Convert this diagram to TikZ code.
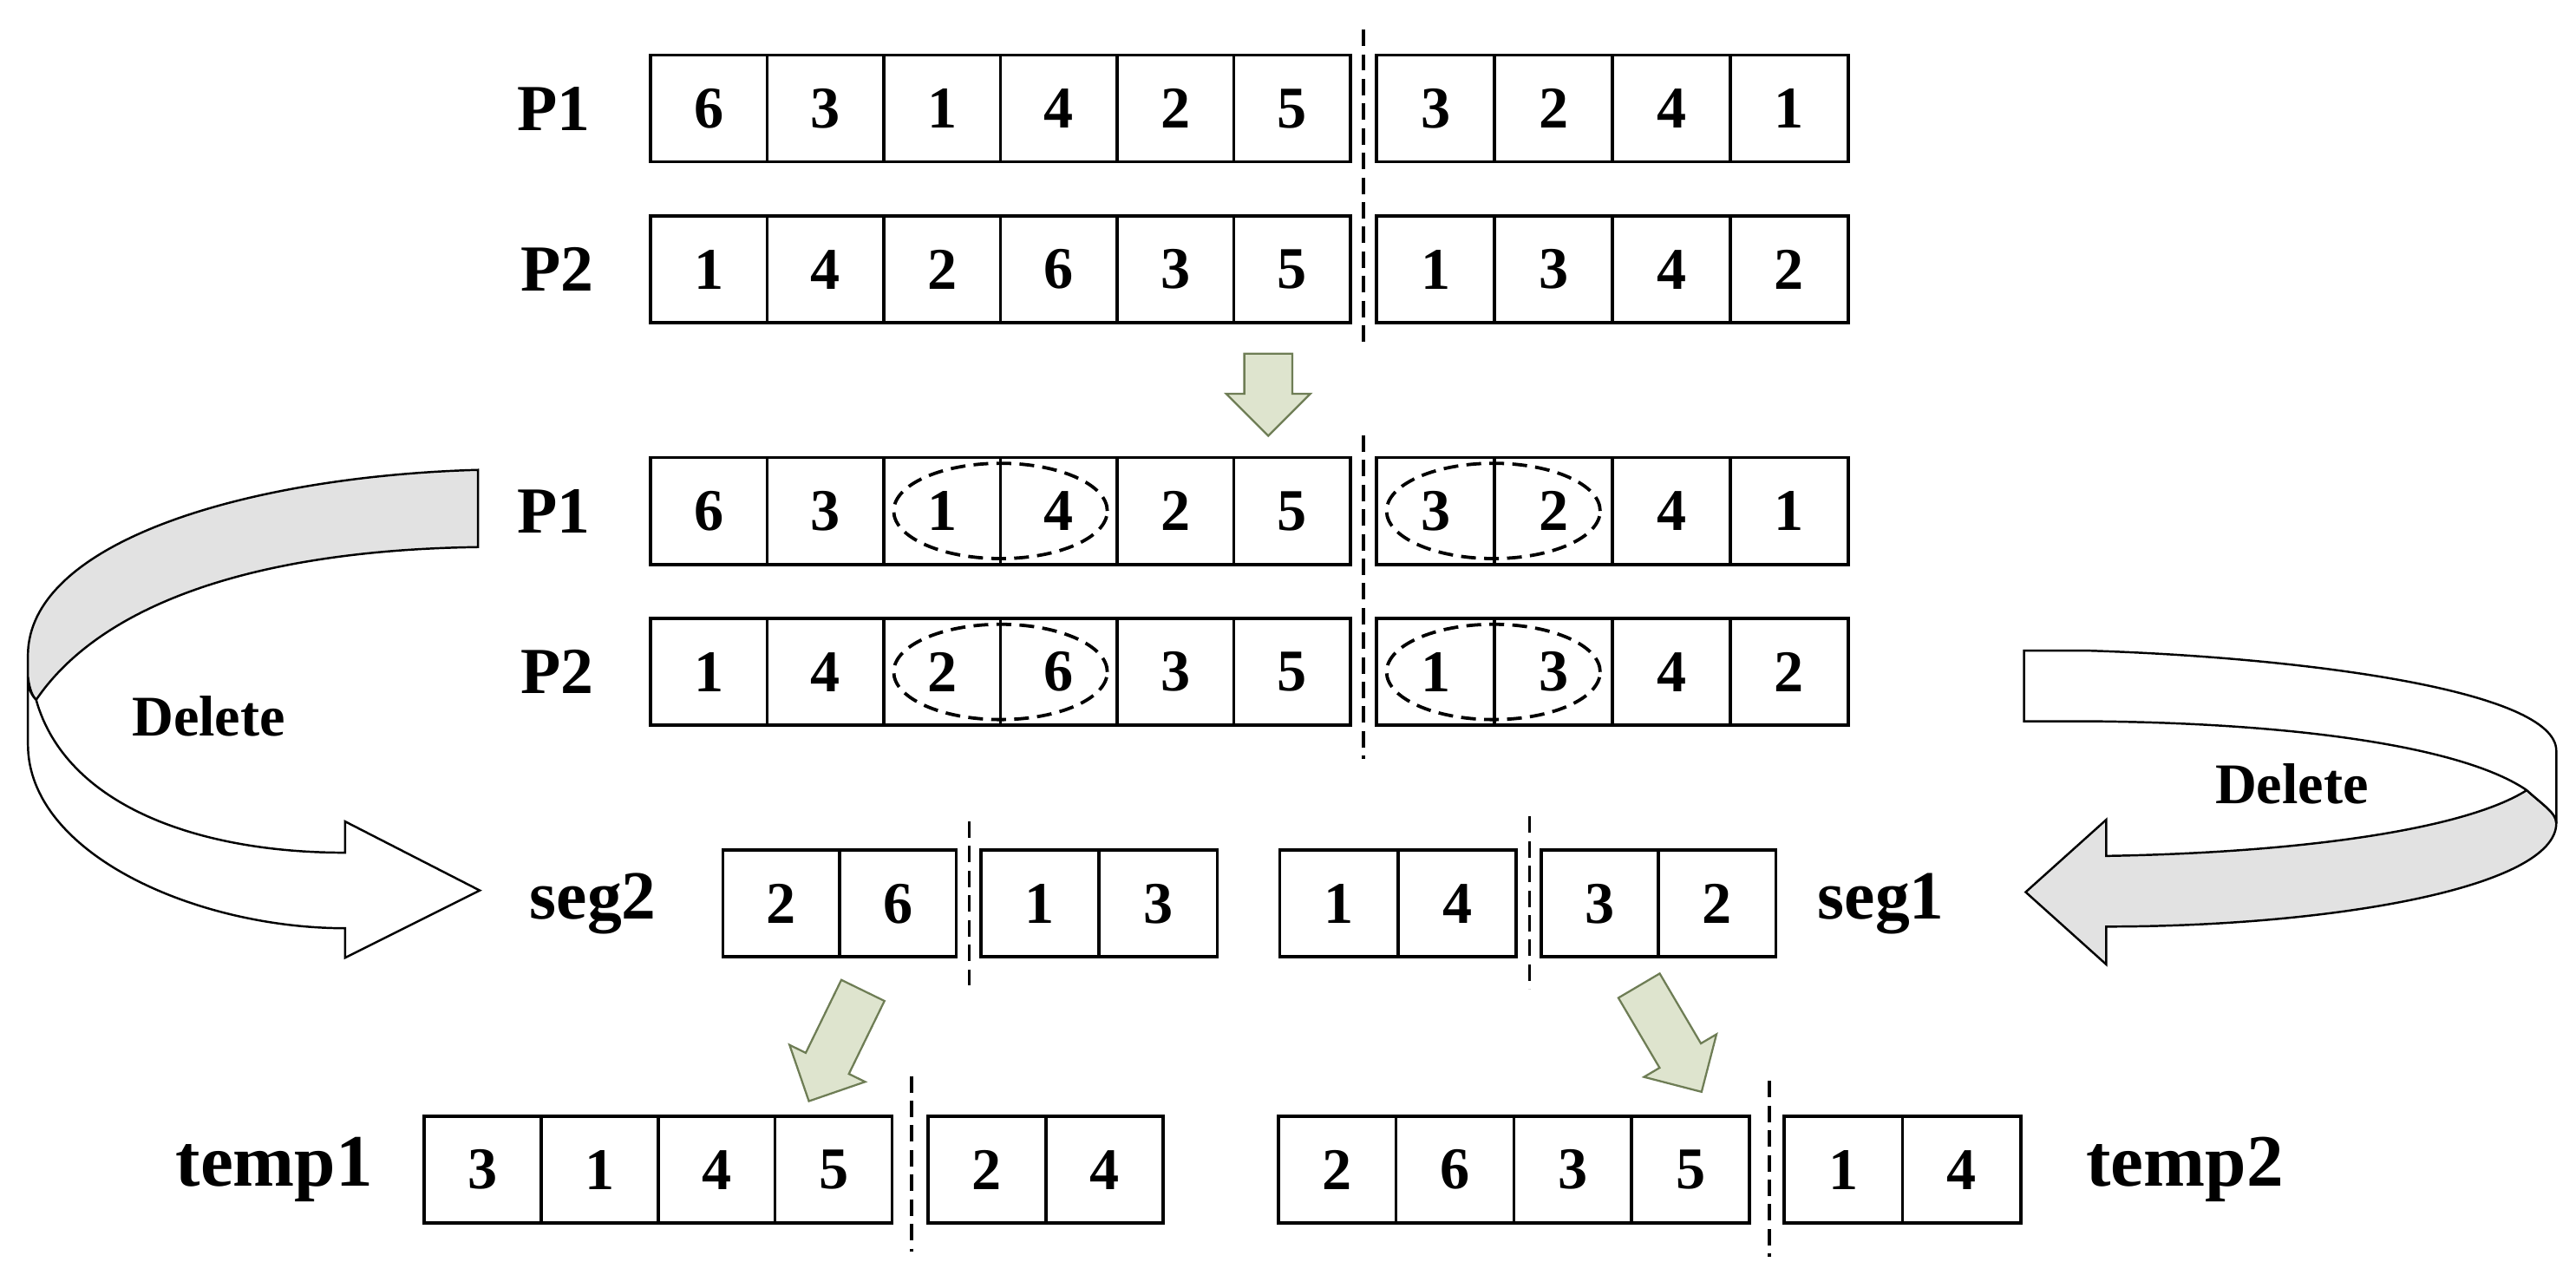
\documentclass[tikz,border=0pt]{standalone}
\usepackage{fontspec}
\setmainfont{Liberation Serif}
\usetikzlibrary{shapes.arrows,shapes.geometric}
\definecolor{grn}{RGB}{222,228,206}
\definecolor{grnd}{RGB}{110,125,85}
\definecolor{band}{RGB}{226,226,226}
\tikzset{
 cell/.style={draw,line width=2pt,minimum height=65pt,inner sep=0pt,font=\fontsize{36}{40}\selectfont\bfseries},
 lbl/.style={font=\fontsize{40}{44}\selectfont\bfseries,inner sep=0pt},
 dl/.style={font=\fontsize{35}{38}\selectfont\bfseries,inner sep=0pt},
 sep/.style={line width=2pt,dash pattern=on 10pt off 5pt},
 ell/.style={draw,line width=2pt,dash pattern=on 9pt off 5pt,ellipse,minimum width=130pt,minimum height=58pt},
 garrow/.style={single arrow,draw=grnd,fill=grn,line width=1.2pt,minimum height=60pt,minimum width=0pt,inner xsep=0pt,inner ysep=14pt,single arrow head extend=11pt,single arrow tip angle=90},
 bigarr/.style={draw,line width=1.3pt,line join=miter}
}
\newcommand{\cellrow}[5]{% name, y, x0, width, list
 \foreach \v [count=\i] in {#5}{
  \node[cell,minimum width=#4pt] (#1\i) at ({#3+(\i-0.5)*#4},#2) {\v};}}
\begin{document}
\begin{tikzpicture}[x=1pt,y=-1pt]
\useasboundingbox (0,0) rectangle (1568,776);
% rows
\node[lbl] (l1) at (337,66) {P1};
\cellrow{a}{66}{396}{71}{6,3,1,4,2,5}
\cellrow{b}{66}{838}{71.75}{3,2,4,1}
\node[lbl] (l2) at (339,164) {P2};
\cellrow{c}{164}{396}{71}{1,4,2,6,3,5}
\cellrow{d}{164}{838}{71.75}{1,3,4,2}
\coordinate (s1t) at (830,18); \coordinate (s1b) at (830,210);
\draw[sep] (s1t) -- (s1b);
\node[garrow,minimum height=50pt,rotate=-90] (g0) at (772,233) {};
\node[lbl] (l3) at (337,311) {P1};
\cellrow{e}{311}{396}{71}{6,3,1,4,2,5}
\cellrow{f}{311}{838}{71.75}{3,2,4,1}
\node[lbl] (l4) at (339,409) {P2};
\cellrow{g}{409}{396}{71}{1,4,2,6,3,5}
\cellrow{h}{409}{838}{71.75}{1,3,4,2}
\coordinate (s2t) at (830,265); \coordinate (s2b) at (830,462);
\draw[sep] (s2t) -- (s2b);
\node[ell] (o1) at (609,311) {};
\node[ell] (o2) at (909,311) {};
\node[ell] (o3) at (609,409) {};
\node[ell] (o4) at (909,409) {};
% seg rows
\node[lbl,font=\fontsize{42}{46}\selectfont\bfseries] (sg2) at (361,550) {seg2};
\cellrow{i}{550}{440}{71}{2,6}
\cellrow{j}{550}{597}{72}{1,3}
\coordinate (s3t) at (590,500); \coordinate (s3b) at (590,602);
\draw[sep] (s3t) -- (s3b);
\cellrow{k}{550}{779}{72}{1,4}
\cellrow{m}{550}{938}{71.5}{3,2}
\coordinate (s4t) at (931,497); \coordinate (s4b) at (931,602);
\draw[sep] (s4t) -- (s4b);
\node[lbl,font=\fontsize{42}{46}\selectfont\bfseries] (sg1) at (1145,550) {seg1};
\node[garrow,minimum height=75pt,rotate=-116] (g1) at (512,630) {};
\node[garrow,minimum height=75pt,rotate=-59.5] (g2) at (1013,626) {};
% temp rows
\node[lbl,font=\fontsize{45}{48}\selectfont\bfseries] (t1) at (167,712) {temp1};
\cellrow{n}{712}{258}{71.25}{3,1,4,5}
\cellrow{p}{712}{565}{71.5}{2,4}
\coordinate (s5t) at (555,655); \coordinate (s5b) at (555,762);
\draw[sep] (s5t) -- (s5b);
\cellrow{q}{712}{778}{71.75}{2,6,3,5}
\cellrow{r}{712}{1086}{72}{1,4}
\coordinate (s6t) at (1077,658); \coordinate (s6b) at (1077,765);
\draw[sep] (s6t) -- (s6b);
\node[lbl,font=\fontsize{45}{48}\selectfont\bfseries] (t2) at (1330,712) {temp2};
% left curved arrow
\draw[bigarr,fill=band] (291,286) .. controls (150,290) and (17,330) .. (17,399) -- (17,412)
  .. controls (18,420) and (20,424) .. (22,426) .. controls (60,370) and (150,335) .. (291,333) -- cycle;
\draw[bigarr,fill=white] (22,426) .. controls (20,424) and (17,420) .. (17,412) -- (17,453)
  .. controls (17,520) and (120,565) .. (210,565) -- (210,583) -- (292,542) -- (210,500) -- (210,519)
  .. controls (120,519) and (40,490) .. (22,426) -- cycle;
\node[dl] (d1) at (127,436) {Delete};
% right curved arrow
\draw[bigarr,fill=band] (1538,481) .. controls (1548,490) and (1556,495) .. (1556,501)
  .. controls (1556,540) and (1420,564) .. (1282,564) -- (1282,587) -- (1233,543) -- (1282,499) -- (1282,521)
  .. controls (1400,519) and (1500,505) .. (1538,481) -- cycle;
\draw[bigarr,fill=white] (1232,396) -- (1270,396) .. controls (1400,400) and (1556,420) .. (1556,457) -- (1556,501)
  .. controls (1556,495) and (1548,490) .. (1538,481)
  .. controls (1500,455) and (1400,440) .. (1270,439) -- (1232,439) -- cycle;
\node[dl] (d2) at (1395,477) {Delete};
\end{tikzpicture}
\end{document}
